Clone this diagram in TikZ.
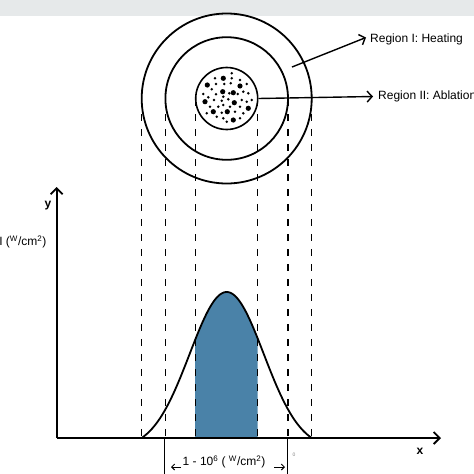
\documentclass[tikz,border=0pt]{standalone}
\usepackage{fontspec}
\setmainfont{Liberation Sans}
\usetikzlibrary{arrows.meta}
\definecolor{bandgray}{RGB}{230,233,234}
\definecolor{ablblue}{RGB}{74,130,168}
\begin{document}
\begin{tikzpicture}[x=1pt,y=-1pt,
  lbl/.style={font=\fontsize{12}{14}\selectfont, inner sep=0pt},
  axlbl/.style={font=\fontsize{12}{14}\selectfont\bfseries, inner sep=0pt},
  guide/.style={dash pattern=on 7pt off 8pt, line width=1.5pt},
  ring/.style={circle, draw, line width=1.8pt, inner sep=0pt},
  axis/.style={line width=1.8pt,-{Straight Barb[length=6pt,width=12pt,line width=1.8pt]}},
  pointer/.style={line width=1.4pt,-{Straight Barb[length=5pt,width=11pt,line width=1.4pt]}},
  small/.style={line width=1pt,-{Straight Barb[length=3pt,width=6pt,line width=1pt]}},
  tick/.style={line width=1.5pt}]
\useasboundingbox (0,0) rectangle (474,474);
\clip (0,0) rectangle (474,474);
\fill[bandgray] (0,0) rectangle (474,16);

% Gaussian profile and shaded ablation band
\fill[ablblue] plot[domain=-31.7:31, samples=60]
  ({226.7+\x},{438-146*(exp(-\x*\x/2738)-0.0714)/0.9286}) -- (257.7,438) -- (195,438) -- cycle;
\draw[line width=1.8pt] plot[domain=-85:85, samples=120]
  ({226.7+\x},{438-146*(exp(-\x*\x/2738)-0.0714)/0.9286});

% circles
\node[ring, minimum size=170pt] (outer) at (226.7,98.5) {};
\node[ring, minimum size=122.6pt] (middle) at (226.7,98.5) {};
\node[ring, minimum size=62pt, line width=1.6pt] (inner) at (226.7,98.5) {};

% dots
\foreach \px/\py in {223.3/78.3,207.3/85,240/86,222.7/91.7,233.3/92.7,205/101.7,234.3/102.7,248.3/108.3,213.3/111.7,227.3/111.7,233.3/120}
  \fill (\px,\py) circle (2.6pt);
\foreach \px/\py in {231.7/73.3,215/78.3,231.7/78.3,240/80,216/84,224.3/84,230.7/83.3,246.7/84,211.7/89.3,229.3/93.3,237.7/94,243.3/91.7,248.3/93.3,203.3/94,216/94.3,208.3/97.3,223.3/96.7,214/100,221.7/100.7,228.3/99.3,241.7/100,246.7/101.7,251.7/100,210/106.7,218.3/106.7,223.3/105,230/106.7,240/106.7,221.7/112.7,235/111.7,243.3/113.3,206.7/113.3,216.7/116.7,223.3/118.3,240/118.3,226.7/121.7}
  \fill (\px,\py) circle (1.4pt);

% dashed projection lines
\foreach \gx in {141.7,165.4,195.7,257.7,288,311.7}
  \draw[guide] (\gx,99) -- (\gx,438);

% axes
\coordinate (O) at (56.7,438);
\coordinate (ytop) at (56.7,187);
\coordinate (xend) at (441,438);
\draw[axis] (O) -- (ytop);
\draw[axis] (O) -- (xend);
\node[axlbl] (ylab) at (48,206) {y};
\node[axlbl] (xlab) at (420,451) {x};
\node[lbl, anchor=east] (ilab) at (46.5,241.7) {I (\textsuperscript{W}/cm\textsuperscript{2})};

% region labels
\node[lbl, anchor=west] (heat) at (370,39) {Region I: Heating};
\node[lbl, anchor=west] (abl) at (378,96.5) {Region II: Ablation};
\coordinate (hs) at (292,67);
\draw[pointer] (hs) -- ([xshift=-4pt,yshift=1.5pt]heat.west);
\draw[pointer] (inner.east) -- ([xshift=-5pt]abl.west);

% bottom range
\coordinate (b1) at (164.3,438);
\coordinate (b1e) at (164.3,474);
\coordinate (b2) at (287.7,438);
\coordinate (b2e) at (287.7,474);
\draw[tick] (b1) -- (b1e);
\draw[tick] (b2) -- (b2e);
\node[lbl] (range) at (224,461.7) {1 - 10\textsuperscript{6} ( \textsuperscript{W}/cm\textsuperscript{2})};
\coordinate (la) at (181,467);
\coordinate (lb) at (171,467);
\coordinate (ra) at (274,467);
\coordinate (rb) at (285,467);
\draw[small] (la) -- (lb);
\draw[small] (ra) -- (rb);
\node[font=\fontsize{5}{6}\selectfont, text=gray, inner sep=0pt] (zero) at (294,455) {0};
\end{tikzpicture}
\end{document}
